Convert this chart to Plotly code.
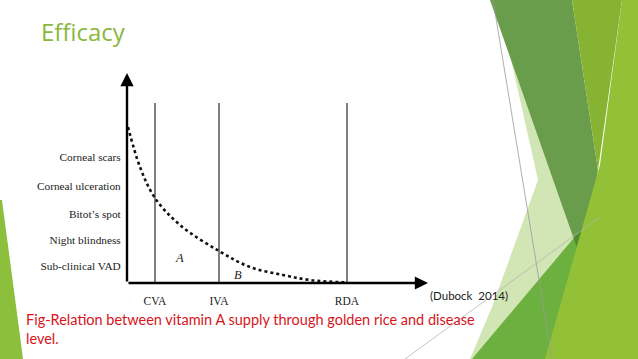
import plotly.graph_objects as go

# ---------------- data ----------------
dose_levels = ["CVA", "IVA", "RDA"]
dose_x = [2.8, 9.2, 22.0]
line_top = 18.0

curve_x = [0.1, 1.3, 2.8, 5.3, 9.2, 12.3, 15.6, 18.3, 22.0]
curve_y = [15.6, 11.6, 8.5, 5.8, 3.2, 1.6, 0.8, 0.3, 0.05]

symptom_labels = ["Corneal scars", "Corneal ulceration", "Bitot\u2019s spot",
                  "Night blindness", "Sub-clinical VAD"]
symptom_y = [12.6, 9.7, 6.9, 4.3, 1.7]

W, H = 638, 359
X_MAX, Y_MAX = 30.1, 21.0


def px(x, y):
    return x / W, 1 - y / H


def poly(points, color, opacity=1.0):
    pts = [px(x, y) for x, y in points]
    path = "M " + " L ".join(f"{a:.4f},{b:.4f}" for a, b in pts) + " Z"
    return dict(type="path", xref="paper", yref="paper", path=path,
                fillcolor=color, line=dict(width=0), opacity=opacity, layer="below")


def seg(p1, p2, color, width):
    a = px(*p1)
    b = px(*p2)
    return dict(type="line", xref="paper", yref="paper", x0=a[0], y0=a[1], x1=b[0], y1=b[1],
                line=dict(color=color, width=width), layer="below")


fig = go.Figure()

# vertical reference lines
for xv in dose_x:
    fig.add_trace(go.Scatter(x=[xv, xv], y=[0, line_top], mode="lines",
                             line=dict(color="#3a3a3a", width=1.3),
                             hoverinfo="skip", showlegend=False))

# dotted curve
fig.add_trace(go.Scatter(x=curve_x, y=curve_y, mode="lines",
                         line=dict(color="#111111", width=2.6, dash="dot", shape="spline"),
                         hoverinfo="skip", showlegend=False))

# decorations
shapes = [
    poly([(0, 200), (2, 200), (23, 359), (0, 359)], "#8cc03c"),
    poly([(510, 55), (575, 55), (595, 300), (560, 359), (470, 359), (492, 307), (538, 180)],
         "#d2e5b5"),
    poly([(472, 359), (610, 195), (625, 359)], "#6cb040"),
    poly([(490, 0), (572, 0), (598, 170), (583, 265)], "#6a9d4b"),
    poly([(573.6, 238), (590.3, 218.8), (583, 265)], "#4e8d2c"),
    poly([(572, 0), (622, 0), (598, 170)], "#86b332"),
    poly([(598, 170), (612, 235), (586, 292), (583, 265), (590.3, 218.8)], "#a3cd62"),
    poly([(622, 0), (638, 0), (638, 359), (545, 359), (600, 165)], "#92c137"),
    seg((493, 0), (552, 359), "#9a9a9a", 0.8),
    seg((405, 359), (600, 217), "#b5b5b5", 0.8),
]

serif = "Liberation Serif, Times New Roman, serif"
annotations = [
    # axes with arrows
    dict(x=X_MAX, y=0, ax=0, ay=0, xref="x", yref="y", axref="x", ayref="y",
         text="", showarrow=True, arrowhead=2, arrowsize=1.1, arrowwidth=2.4, arrowcolor="#000"),
    dict(x=0, y=Y_MAX, ax=0, ay=0, xref="x", yref="y", axref="x", ayref="y",
         text="", showarrow=True, arrowhead=2, arrowsize=1.1, arrowwidth=2.4, arrowcolor="#000"),
    dict(x=-2.0, y=20.0, xref="x", yref="y", text="DL", showarrow=False,
         font=dict(family=serif, size=11.5, color="#222")),
    dict(x=28.6, y=-1.4, xref="x", yref="y", text="x", showarrow=False,
         font=dict(family=serif, size=11, color="#222")),
    dict(x=5.2, y=2.5, xref="x", yref="y", text="<i>A</i>", showarrow=False,
         font=dict(family=serif, size=12.5, color="#222")),
    dict(x=11.1, y=0.8, xref="x", yref="y", text="<i>B</i>", showarrow=False,
         font=dict(family=serif, size=12.5, color="#222")),
    # slide texts
    dict(x=px(39, 0)[0], y=px(0, 32)[1], xref="paper", yref="paper", xanchor="left",
         yanchor="middle", text="Efficacy", showarrow=False,
         font=dict(family="Open Sans", size=24, color="#8ab83d")),
    dict(x=px(428, 0)[0], y=px(0, 295)[1], xref="paper", yref="paper", xanchor="left",
         yanchor="middle", text="(Dubock\u00a0 2014)", showarrow=False,
         font=dict(family="Lato", size=11.5, color="#222")),
    dict(x=px(24, 0)[0], y=px(0, 309)[1], xref="paper", yref="paper", xanchor="left",
         yanchor="top", align="left", showarrow=False,
         text="Fig-Relation between vitamin A supply through golden rice and disease<br>level.",
         font=dict(family="Lato", size=14.5, color="#d8141c")),
]

fig.update_layout(
    width=W, height=H, margin=dict(l=0, r=0, t=0, b=0, autoexpand=False),
    paper_bgcolor="white", plot_bgcolor="rgba(0,0,0,0)",
    shapes=shapes, annotations=annotations, showlegend=False,
    xaxis=dict(domain=[127 / W, 428 / W], range=[0, X_MAX], showgrid=False, zeroline=False,
               showline=False, automargin=False, tickmode="array", tickvals=dose_x,
               ticktext=dose_levels, ticks="outside", ticklen=7, tickcolor="rgba(0,0,0,0)",
               tickfont=dict(family=serif, size=11.5, color="#222")),
    yaxis=dict(domain=[1 - 283 / H, 1 - 73 / H], range=[0, Y_MAX], showgrid=False, zeroline=False,
               showline=False, automargin=False, tickmode="array", tickvals=symptom_y,
               ticktext=symptom_labels, ticks="outside", ticklen=3, tickcolor="rgba(0,0,0,0)",
               tickfont=dict(family=serif, size=11.3, color="#222")),
)

fig.write_html("out.html", config={"displayModeBar": False},
               post_script="document.body.style.margin='0';document.body.style.overflow='hidden';")
